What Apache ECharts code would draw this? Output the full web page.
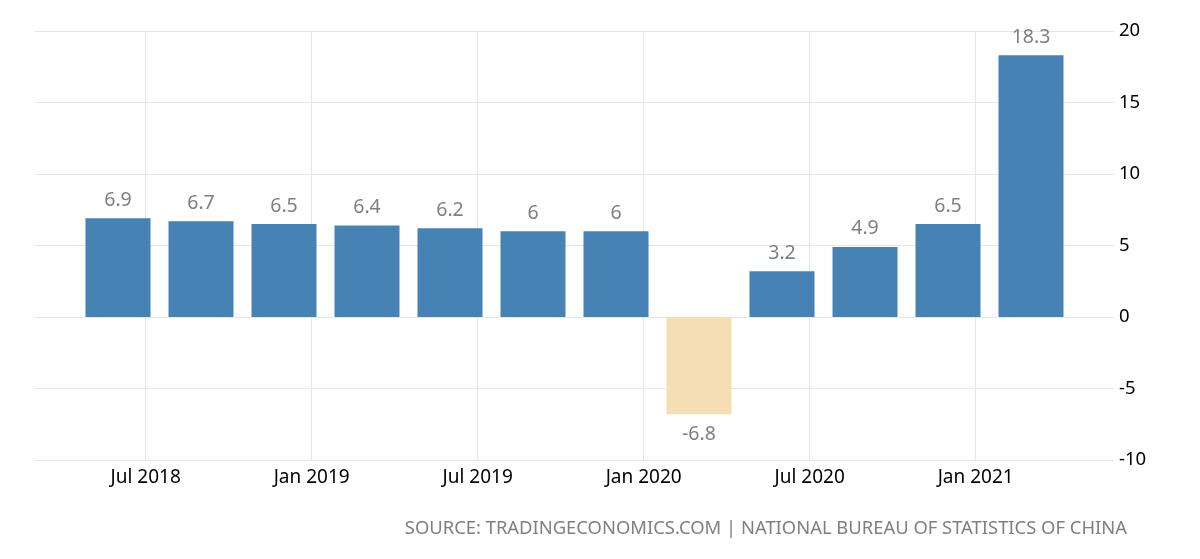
<!DOCTYPE HTML>
<html>
<head>
<meta http-equiv="Content-Type" content="text/html; charset=utf-8">
<title>China GDP growth</title>
<script type="text/javascript" src="https://cdn.jsdelivr.net/npm/echarts@6/dist/echarts.min.js"></script>
<style>
  html, body { margin: 0; padding: 0; background: #fff; }
  #chart { width: 1200px; height: 559px; }
</style>
</head>
<body>
<div id="chart"></div>
<script type="text/javascript">
  // monthly positions of the axis, Mar 2018 .. Jun 2021
  var months = ['Mar 2018','Apr 2018','May 2018','Jun 2018','Jul 2018','Aug 2018','Sep 2018','Oct 2018','Nov 2018','Dec 2018',
    'Jan 2019','Feb 2019','Mar 2019','Apr 2019','May 2019','Jun 2019','Jul 2019','Aug 2019','Sep 2019','Oct 2019','Nov 2019','Dec 2019',
    'Jan 2020','Feb 2020','Mar 2020','Apr 2020','May 2020','Jun 2020','Jul 2020','Aug 2020','Sep 2020','Oct 2020','Nov 2020','Dec 2020',
    'Jan 2021','Feb 2021','Mar 2021','Apr 2021','May 2021','Jun 2021'];
  var tickLabels = ['Jul 2018','Jan 2019','Jul 2019','Jan 2020','Jul 2020','Jan 2021'];
  var quarters = ['Jun 2018','Sep 2018','Dec 2018','Mar 2019','Jun 2019','Sep 2019','Dec 2019','Mar 2020','Jun 2020','Sep 2020','Dec 2020','Mar 2021'];
  var growth = [6.9, 6.7, 6.5, 6.4, 6.2, 6, 6, -6.8, 3.2, 4.9, 6.5, 18.3];
  var sourceText = 'SOURCE: TRADINGECONOMICS.COM | NATIONAL BUREAU OF STATISTICS OF CHINA';

  var font = '"Noto Sans", sans-serif';
  function isTick(index, value) { return tickLabels.indexOf(value) >= 0; }

  var chart = echarts.init(document.getElementById('chart'));
  chart.setOption({
    animation: false,
    backgroundColor: '#fff',
    textStyle: { fontFamily: font },
    grid: { left: 35, right: 86, top: 31, bottom: 99, containLabel: false },
    title: {
      text: sourceText,
      right: 73,
      top: 520,
      padding: 0,
      textStyle: { color: '#808080', fontSize: 18.4, fontWeight: 'normal', fontFamily: font }
    },
    xAxis: {
      type: 'category',
      data: months,
      boundaryGap: false,
      axisLine: { show: false },
      axisTick: { show: true, interval: isTick, length: 6, lineStyle: { color: '#e6e6e6' } },
      axisLabel: { interval: isTick, color: '#000', fontSize: 19, margin: 8, fontFamily: font },
      splitLine: { show: true, interval: isTick, lineStyle: { color: '#e6e6e6', width: 1 } }
    },
    yAxis: {
      type: 'value',
      position: 'right',
      min: -10,
      max: 20,
      interval: 5,
      axisLine: { show: false },
      axisTick: { show: false },
      axisLabel: { color: '#000', fontSize: 18.5, margin: 5, padding: [2, 0, 0, 0], fontFamily: font },
      splitLine: { lineStyle: { color: '#e6e6e6', width: 1 } }
    },
    series: [{
      type: 'bar',
      barWidth: 65,
      data: growth.map(function (v, i) {
        return {
          value: [quarters[i], v],
          itemStyle: { color: v < 0 ? '#f5deb3' : '#4682b4' },
          label: { position: v < 0 ? 'bottom' : 'top', distance: v < 0 ? 10 : 8 }
        };
      }),
      label: {
        show: true,
        color: '#808080',
        fontSize: 19.5,
        fontFamily: font,
        formatter: function (p) { return String(p.value[1]); }
      }
    }]
  });
</script>
</body>
</html>
